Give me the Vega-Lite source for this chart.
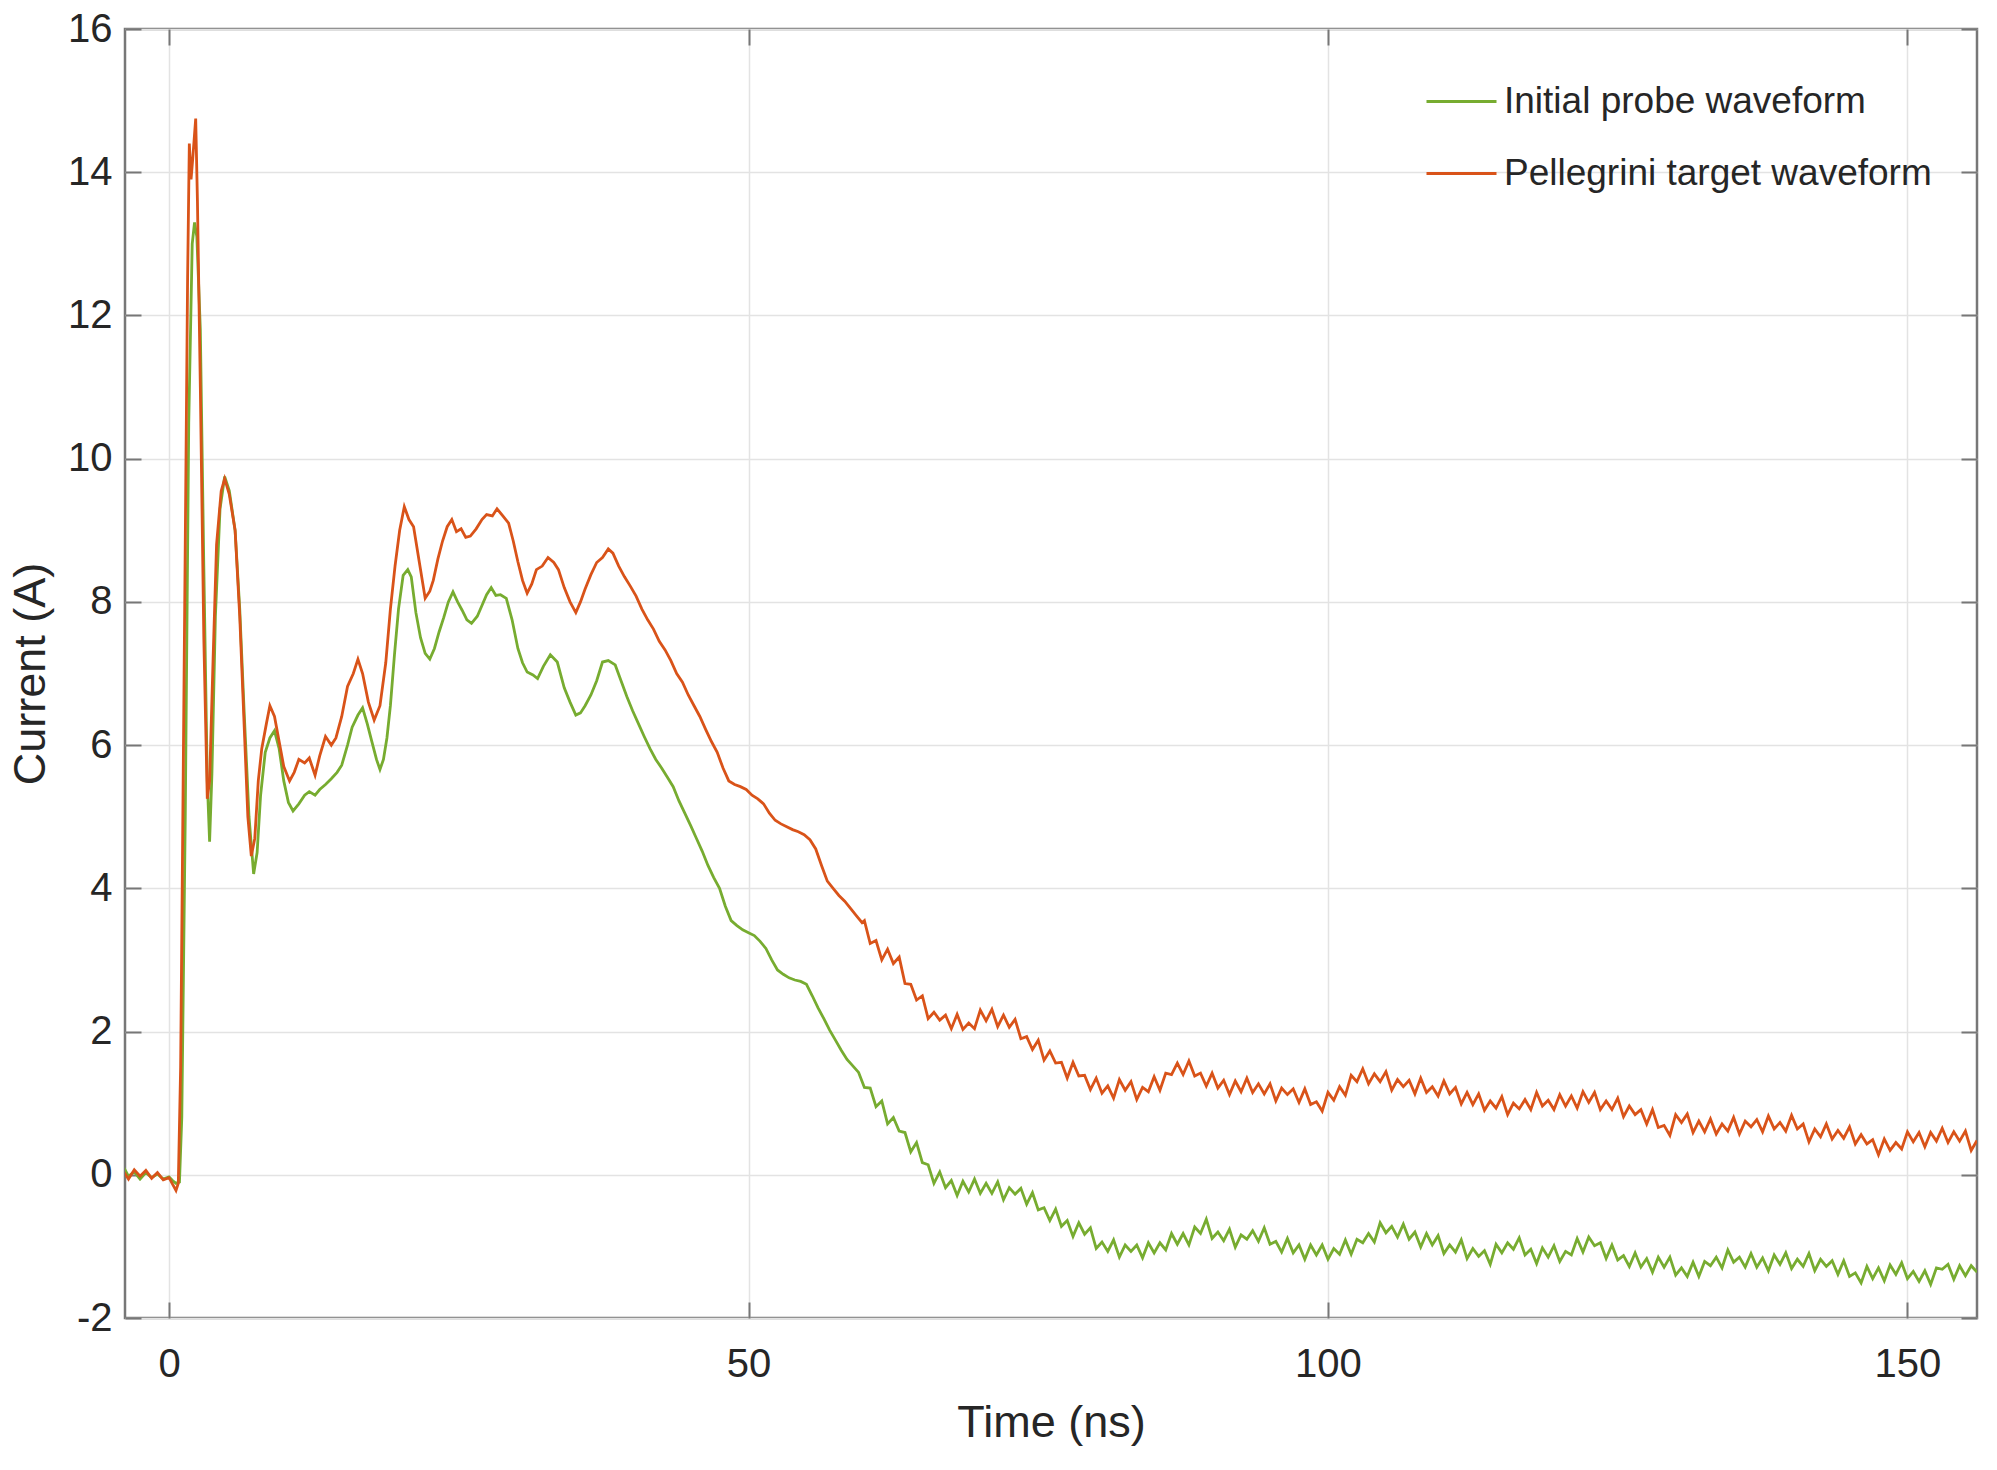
{
  "$schema": "https://vega.github.io/schema/vega-lite/v6.json",
  "autosize": {"type": "none"},
  "padding": {"left": 125, "top": 29, "right": 20, "bottom": 152},
  "width": 1852,
  "height": 1289,
  "background": "white",
  "config": {
    "font": "Liberation Sans",
    "view": {"stroke": "#777777", "strokeWidth": 2.5},
    "axis": {
      "labelColor": "#262626",
      "titleColor": "#262626",
      "labelFont": "Liberation Sans",
      "titleFont": "Liberation Sans",
      "labelFontSize": 40,
      "titleFontSize": 45,
      "titleFontWeight": "normal",
      "gridColor": "#e3e3e3",
      "gridWidth": 1.5,
      "domain": false,
      "tickColor": "#777777",
      "tickWidth": 2,
      "tickSize": -16,
      "labelExpr": "'' + datum.value"
    }
  },
  "data": {
    "values": [
      {"t": -3.9, "s": "g", "y": 0.1}, {"t": -3.5, "s": "g", "y": -0.02}, {"t": -3.0, "s": "g", "y": 0.04}, {"t": -2.5, "s": "g", "y": -0.06},
      {"t": -2.0, "s": "g", "y": 0.03}, {"t": -1.5, "s": "g", "y": -0.04}, {"t": -1.0, "s": "g", "y": 0.01}, {"t": -0.5, "s": "g", "y": -0.06},
      {"t": 0.0, "s": "g", "y": -0.03}, {"t": 0.3, "s": "g", "y": -0.08}, {"t": 0.6, "s": "g", "y": -0.12}, {"t": 0.9, "s": "g", "y": -0.1},
      {"t": 1.1, "s": "g", "y": 0.8}, {"t": 1.4, "s": "g", "y": 5.0}, {"t": 1.7, "s": "g", "y": 10.5}, {"t": 2.0, "s": "g", "y": 13.0},
      {"t": 2.2, "s": "g", "y": 13.3}, {"t": 2.4, "s": "g", "y": 13.1}, {"t": 2.7, "s": "g", "y": 11.8}, {"t": 3.0, "s": "g", "y": 8.5},
      {"t": 3.3, "s": "g", "y": 5.5}, {"t": 3.5, "s": "g", "y": 4.65}, {"t": 3.7, "s": "g", "y": 5.6}, {"t": 4.0, "s": "g", "y": 7.8},
      {"t": 4.4, "s": "g", "y": 9.3}, {"t": 4.8, "s": "g", "y": 9.75}, {"t": 5.2, "s": "g", "y": 9.55}, {"t": 5.7, "s": "g", "y": 9.0},
      {"t": 6.1, "s": "g", "y": 7.9}, {"t": 6.5, "s": "g", "y": 6.4}, {"t": 6.9, "s": "g", "y": 5.0}, {"t": 7.3, "s": "g", "y": 4.2},
      {"t": 7.6, "s": "g", "y": 4.5}, {"t": 7.9, "s": "g", "y": 5.3}, {"t": 8.3, "s": "g", "y": 5.9}, {"t": 8.7, "s": "g", "y": 6.1},
      {"t": 9.1, "s": "g", "y": 6.2}, {"t": 9.5, "s": "g", "y": 5.95}, {"t": 9.9, "s": "g", "y": 5.5}, {"t": 10.3, "s": "g", "y": 5.2},
      {"t": 10.7, "s": "g", "y": 5.08}, {"t": 11.2, "s": "g", "y": 5.18}, {"t": 11.7, "s": "g", "y": 5.3}, {"t": 12.1, "s": "g", "y": 5.35},
      {"t": 12.6, "s": "g", "y": 5.3}, {"t": 13.0, "s": "g", "y": 5.38}, {"t": 13.5, "s": "g", "y": 5.45}, {"t": 14.0, "s": "g", "y": 5.53},
      {"t": 14.5, "s": "g", "y": 5.62}, {"t": 14.9, "s": "g", "y": 5.72}, {"t": 15.4, "s": "g", "y": 6.0}, {"t": 15.8, "s": "g", "y": 6.25},
      {"t": 16.3, "s": "g", "y": 6.42}, {"t": 16.7, "s": "g", "y": 6.52}, {"t": 17.1, "s": "g", "y": 6.3}, {"t": 17.5, "s": "g", "y": 6.05},
      {"t": 17.9, "s": "g", "y": 5.8}, {"t": 18.2, "s": "g", "y": 5.66}, {"t": 18.5, "s": "g", "y": 5.8}, {"t": 18.8, "s": "g", "y": 6.1},
      {"t": 19.1, "s": "g", "y": 6.55}, {"t": 19.45, "s": "g", "y": 7.26}, {"t": 19.8, "s": "g", "y": 7.9}, {"t": 20.2, "s": "g", "y": 8.37},
      {"t": 20.6, "s": "g", "y": 8.45}, {"t": 20.9, "s": "g", "y": 8.35}, {"t": 21.3, "s": "g", "y": 7.85}, {"t": 21.7, "s": "g", "y": 7.5},
      {"t": 22.1, "s": "g", "y": 7.28}, {"t": 22.5, "s": "g", "y": 7.2}, {"t": 22.9, "s": "g", "y": 7.35}, {"t": 23.3, "s": "g", "y": 7.58},
      {"t": 23.7, "s": "g", "y": 7.78}, {"t": 24.1, "s": "g", "y": 8.0}, {"t": 24.5, "s": "g", "y": 8.14}, {"t": 24.9, "s": "g", "y": 8.0},
      {"t": 25.3, "s": "g", "y": 7.88}, {"t": 25.7, "s": "g", "y": 7.75}, {"t": 26.1, "s": "g", "y": 7.7}, {"t": 26.6, "s": "g", "y": 7.8},
      {"t": 27.0, "s": "g", "y": 7.95}, {"t": 27.4, "s": "g", "y": 8.1}, {"t": 27.8, "s": "g", "y": 8.2}, {"t": 28.2, "s": "g", "y": 8.09},
      {"t": 28.6, "s": "g", "y": 8.1}, {"t": 29.1, "s": "g", "y": 8.05}, {"t": 29.6, "s": "g", "y": 7.75}, {"t": 30.1, "s": "g", "y": 7.35},
      {"t": 30.5, "s": "g", "y": 7.15}, {"t": 30.9, "s": "g", "y": 7.02}, {"t": 31.4, "s": "g", "y": 6.98}, {"t": 31.8, "s": "g", "y": 6.93},
      {"t": 32.3, "s": "g", "y": 7.1}, {"t": 32.9, "s": "g", "y": 7.26}, {"t": 33.5, "s": "g", "y": 7.16}, {"t": 34.1, "s": "g", "y": 6.8},
      {"t": 34.6, "s": "g", "y": 6.6}, {"t": 35.1, "s": "g", "y": 6.42}, {"t": 35.5, "s": "g", "y": 6.45}, {"t": 35.9, "s": "g", "y": 6.55},
      {"t": 36.4, "s": "g", "y": 6.7}, {"t": 36.9, "s": "g", "y": 6.9}, {"t": 37.4, "s": "g", "y": 7.16}, {"t": 37.9, "s": "g", "y": 7.18},
      {"t": 38.5, "s": "g", "y": 7.12}, {"t": 39.0, "s": "g", "y": 6.9}, {"t": 39.5, "s": "g", "y": 6.68}, {"t": 40.0, "s": "g", "y": 6.48},
      {"t": 40.5, "s": "g", "y": 6.3}, {"t": 41.0, "s": "g", "y": 6.12}, {"t": 41.5, "s": "g", "y": 5.95}, {"t": 42.0, "s": "g", "y": 5.8},
      {"t": 42.5, "s": "g", "y": 5.68}, {"t": 43.0, "s": "g", "y": 5.55}, {"t": 43.5, "s": "g", "y": 5.42}, {"t": 44.0, "s": "g", "y": 5.22},
      {"t": 44.5, "s": "g", "y": 5.05}, {"t": 45.0, "s": "g", "y": 4.88}, {"t": 45.5, "s": "g", "y": 4.7}, {"t": 46.0, "s": "g", "y": 4.52},
      {"t": 46.5, "s": "g", "y": 4.32}, {"t": 47.0, "s": "g", "y": 4.15}, {"t": 47.5, "s": "g", "y": 4.0}, {"t": 48.0, "s": "g", "y": 3.75},
      {"t": 48.5, "s": "g", "y": 3.55}, {"t": 49.0, "s": "g", "y": 3.48}, {"t": 49.5, "s": "g", "y": 3.42}, {"t": 50.0, "s": "g", "y": 3.38},
      {"t": 50.5, "s": "g", "y": 3.34}, {"t": 51.0, "s": "g", "y": 3.26}, {"t": 51.5, "s": "g", "y": 3.16}, {"t": 52.0, "s": "g", "y": 3.0},
      {"t": 52.5, "s": "g", "y": 2.86}, {"t": 53.0, "s": "g", "y": 2.8}, {"t": 53.5, "s": "g", "y": 2.75}, {"t": 54.0, "s": "g", "y": 2.72},
      {"t": 54.5, "s": "g", "y": 2.7}, {"t": 55.0, "s": "g", "y": 2.66}, {"t": 55.5, "s": "g", "y": 2.5}, {"t": 56.0, "s": "g", "y": 2.33},
      {"t": 56.5, "s": "g", "y": 2.18}, {"t": 57.0, "s": "g", "y": 2.02}, {"t": 57.5, "s": "g", "y": 1.88}, {"t": 58.0, "s": "g", "y": 1.74},
      {"t": 58.5, "s": "g", "y": 1.61}, {"t": 59.0, "s": "g", "y": 1.52}, {"t": 59.5, "s": "g", "y": 1.43},
      {"t": 60.0, "s": "g", "y": 1.22}, {"t": 60.5, "s": "g", "y": 1.21}, {"t": 61.0, "s": "g", "y": 0.95}, {"t": 61.5, "s": "g", "y": 1.03},
      {"t": 62.0, "s": "g", "y": 0.71}, {"t": 62.5, "s": "g", "y": 0.8}, {"t": 63.0, "s": "g", "y": 0.61}, {"t": 63.5, "s": "g", "y": 0.59},
      {"t": 64.0, "s": "g", "y": 0.32}, {"t": 64.5, "s": "g", "y": 0.45}, {"t": 65.0, "s": "g", "y": 0.17}, {"t": 65.5, "s": "g", "y": 0.14},
      {"t": 66.0, "s": "g", "y": -0.12}, {"t": 66.5, "s": "g", "y": 0.04}, {"t": 67.0, "s": "g", "y": -0.18}, {"t": 67.5, "s": "g", "y": -0.08},
      {"t": 68.0, "s": "g", "y": -0.29}, {"t": 68.5, "s": "g", "y": -0.09}, {"t": 69.0, "s": "g", "y": -0.24}, {"t": 69.5, "s": "g", "y": -0.06},
      {"t": 70.0, "s": "g", "y": -0.26}, {"t": 70.5, "s": "g", "y": -0.12}, {"t": 71.0, "s": "g", "y": -0.26}, {"t": 71.5, "s": "g", "y": -0.1},
      {"t": 72.0, "s": "g", "y": -0.35}, {"t": 72.5, "s": "g", "y": -0.18}, {"t": 73.0, "s": "g", "y": -0.27}, {"t": 73.5, "s": "g", "y": -0.19},
      {"t": 74.0, "s": "g", "y": -0.41}, {"t": 74.5, "s": "g", "y": -0.25}, {"t": 75.0, "s": "g", "y": -0.49}, {"t": 75.5, "s": "g", "y": -0.46},
      {"t": 76.0, "s": "g", "y": -0.64}, {"t": 76.5, "s": "g", "y": -0.48}, {"t": 77.0, "s": "g", "y": -0.72}, {"t": 77.5, "s": "g", "y": -0.64},
      {"t": 78.0, "s": "g", "y": -0.86}, {"t": 78.5, "s": "g", "y": -0.67}, {"t": 79.0, "s": "g", "y": -0.83}, {"t": 79.5, "s": "g", "y": -0.74},
      {"t": 80.0, "s": "g", "y": -1.03}, {"t": 80.5, "s": "g", "y": -0.94}, {"t": 81.0, "s": "g", "y": -1.07}, {"t": 81.5, "s": "g", "y": -0.91},
      {"t": 82.0, "s": "g", "y": -1.15}, {"t": 82.5, "s": "g", "y": -0.98}, {"t": 83.0, "s": "g", "y": -1.07}, {"t": 83.5, "s": "g", "y": -0.98},
      {"t": 84.0, "s": "g", "y": -1.16}, {"t": 84.5, "s": "g", "y": -0.95}, {"t": 85.0, "s": "g", "y": -1.09}, {"t": 85.5, "s": "g", "y": -0.95},
      {"t": 86.0, "s": "g", "y": -1.05}, {"t": 86.5, "s": "g", "y": -0.82}, {"t": 87.0, "s": "g", "y": -0.97}, {"t": 87.5, "s": "g", "y": -0.82},
      {"t": 88.0, "s": "g", "y": -0.98}, {"t": 88.5, "s": "g", "y": -0.73}, {"t": 89.0, "s": "g", "y": -0.82}, {"t": 89.5, "s": "g", "y": -0.62},
      {"t": 90.0, "s": "g", "y": -0.89}, {"t": 90.5, "s": "g", "y": -0.8}, {"t": 91.0, "s": "g", "y": -0.92}, {"t": 91.5, "s": "g", "y": -0.76},
      {"t": 92.0, "s": "g", "y": -1.01}, {"t": 92.5, "s": "g", "y": -0.84}, {"t": 93.0, "s": "g", "y": -0.9}, {"t": 93.5, "s": "g", "y": -0.78},
      {"t": 94.0, "s": "g", "y": -0.93}, {"t": 94.5, "s": "g", "y": -0.74}, {"t": 95.0, "s": "g", "y": -0.97}, {"t": 95.5, "s": "g", "y": -0.93},
      {"t": 96.0, "s": "g", "y": -1.08}, {"t": 96.5, "s": "g", "y": -0.89}, {"t": 97.0, "s": "g", "y": -1.09}, {"t": 97.5, "s": "g", "y": -0.98},
      {"t": 98.0, "s": "g", "y": -1.18}, {"t": 98.5, "s": "g", "y": -0.98}, {"t": 99.0, "s": "g", "y": -1.12}, {"t": 99.5, "s": "g", "y": -0.98},
      {"t": 100.0, "s": "g", "y": -1.18}, {"t": 100.5, "s": "g", "y": -1.03}, {"t": 101.0, "s": "g", "y": -1.11}, {"t": 101.5, "s": "g", "y": -0.91},
      {"t": 102.0, "s": "g", "y": -1.11}, {"t": 102.5, "s": "g", "y": -0.9}, {"t": 103.0, "s": "g", "y": -0.95}, {"t": 103.5, "s": "g", "y": -0.82},
      {"t": 104.0, "s": "g", "y": -0.94}, {"t": 104.5, "s": "g", "y": -0.67}, {"t": 105.0, "s": "g", "y": -0.81}, {"t": 105.5, "s": "g", "y": -0.72},
      {"t": 106.0, "s": "g", "y": -0.87}, {"t": 106.5, "s": "g", "y": -0.69}, {"t": 107.0, "s": "g", "y": -0.9}, {"t": 107.5, "s": "g", "y": -0.8},
      {"t": 108.0, "s": "g", "y": -1.01}, {"t": 108.5, "s": "g", "y": -0.82}, {"t": 109.0, "s": "g", "y": -0.98}, {"t": 109.5, "s": "g", "y": -0.85},
      {"t": 110.0, "s": "g", "y": -1.1}, {"t": 110.5, "s": "g", "y": -0.98}, {"t": 111.0, "s": "g", "y": -1.08}, {"t": 111.5, "s": "g", "y": -0.91},
      {"t": 112.0, "s": "g", "y": -1.17}, {"t": 112.5, "s": "g", "y": -1.03}, {"t": 113.0, "s": "g", "y": -1.14}, {"t": 113.5, "s": "g", "y": -1.06},
      {"t": 114.0, "s": "g", "y": -1.25}, {"t": 114.5, "s": "g", "y": -0.97}, {"t": 115.0, "s": "g", "y": -1.09}, {"t": 115.5, "s": "g", "y": -0.95},
      {"t": 116.0, "s": "g", "y": -1.04}, {"t": 116.5, "s": "g", "y": -0.88}, {"t": 117.0, "s": "g", "y": -1.12}, {"t": 117.5, "s": "g", "y": -1.04},
      {"t": 118.0, "s": "g", "y": -1.24}, {"t": 118.5, "s": "g", "y": -1.02}, {"t": 119.0, "s": "g", "y": -1.15}, {"t": 119.5, "s": "g", "y": -0.99},
      {"t": 120.0, "s": "g", "y": -1.21}, {"t": 120.5, "s": "g", "y": -1.07}, {"t": 121.0, "s": "g", "y": -1.12}, {"t": 121.5, "s": "g", "y": -0.89},
      {"t": 122.0, "s": "g", "y": -1.08}, {"t": 122.5, "s": "g", "y": -0.87}, {"t": 123.0, "s": "g", "y": -0.99}, {"t": 123.5, "s": "g", "y": -0.95},
      {"t": 124.0, "s": "g", "y": -1.17}, {"t": 124.5, "s": "g", "y": -0.98}, {"t": 125.0, "s": "g", "y": -1.19}, {"t": 125.5, "s": "g", "y": -1.13},
      {"t": 126.0, "s": "g", "y": -1.28}, {"t": 126.5, "s": "g", "y": -1.09}, {"t": 127.0, "s": "g", "y": -1.29}, {"t": 127.5, "s": "g", "y": -1.17},
      {"t": 128.0, "s": "g", "y": -1.36}, {"t": 128.5, "s": "g", "y": -1.15}, {"t": 129.0, "s": "g", "y": -1.29}, {"t": 129.5, "s": "g", "y": -1.15},
      {"t": 130.0, "s": "g", "y": -1.4}, {"t": 130.5, "s": "g", "y": -1.3}, {"t": 131.0, "s": "g", "y": -1.42}, {"t": 131.5, "s": "g", "y": -1.22},
      {"t": 132.0, "s": "g", "y": -1.42}, {"t": 132.5, "s": "g", "y": -1.21}, {"t": 133.0, "s": "g", "y": -1.27}, {"t": 133.5, "s": "g", "y": -1.15},
      {"t": 134.0, "s": "g", "y": -1.3}, {"t": 134.5, "s": "g", "y": -1.05}, {"t": 135.0, "s": "g", "y": -1.22}, {"t": 135.5, "s": "g", "y": -1.15},
      {"t": 136.0, "s": "g", "y": -1.29}, {"t": 136.5, "s": "g", "y": -1.1}, {"t": 137.0, "s": "g", "y": -1.29}, {"t": 137.5, "s": "g", "y": -1.16},
      {"t": 138.0, "s": "g", "y": -1.34}, {"t": 138.5, "s": "g", "y": -1.12}, {"t": 139.0, "s": "g", "y": -1.25}, {"t": 139.5, "s": "g", "y": -1.09},
      {"t": 140.0, "s": "g", "y": -1.31}, {"t": 140.5, "s": "g", "y": -1.18}, {"t": 141.0, "s": "g", "y": -1.28}, {"t": 141.5, "s": "g", "y": -1.1},
      {"t": 142.0, "s": "g", "y": -1.34}, {"t": 142.5, "s": "g", "y": -1.18}, {"t": 143.0, "s": "g", "y": -1.28}, {"t": 143.5, "s": "g", "y": -1.2},
      {"t": 144.0, "s": "g", "y": -1.39}, {"t": 144.5, "s": "g", "y": -1.2}, {"t": 145.0, "s": "g", "y": -1.42}, {"t": 145.5, "s": "g", "y": -1.37},
      {"t": 146.0, "s": "g", "y": -1.51}, {"t": 146.5, "s": "g", "y": -1.28}, {"t": 147.0, "s": "g", "y": -1.45}, {"t": 147.5, "s": "g", "y": -1.3},
      {"t": 148.0, "s": "g", "y": -1.48}, {"t": 148.5, "s": "g", "y": -1.26}, {"t": 149.0, "s": "g", "y": -1.39}, {"t": 149.5, "s": "g", "y": -1.23},
      {"t": 150.0, "s": "g", "y": -1.45}, {"t": 150.5, "s": "g", "y": -1.35}, {"t": 151.0, "s": "g", "y": -1.49}, {"t": 151.5, "s": "g", "y": -1.34},
      {"t": 152.0, "s": "g", "y": -1.53}, {"t": 152.5, "s": "g", "y": -1.3}, {"t": 153.0, "s": "g", "y": -1.32}, {"t": 153.5, "s": "g", "y": -1.25},
      {"t": 154.0, "s": "g", "y": -1.46}, {"t": 154.5, "s": "g", "y": -1.27}, {"t": 155.0, "s": "g", "y": -1.41}, {"t": 155.5, "s": "g", "y": -1.27},
      {"t": 156.0, "s": "g", "y": -1.36},

      {"t": -3.9, "s": "p", "y": 0.04}, {"t": -3.5, "s": "p", "y": -0.06}, {"t": -3.0, "s": "p", "y": 0.07}, {"t": -2.5, "s": "p", "y": -0.02},
      {"t": -2.0, "s": "p", "y": 0.06}, {"t": -1.5, "s": "p", "y": -0.05}, {"t": -1.0, "s": "p", "y": 0.03}, {"t": -0.5, "s": "p", "y": -0.07},
      {"t": 0.0, "s": "p", "y": -0.04}, {"t": 0.3, "s": "p", "y": -0.13}, {"t": 0.6, "s": "p", "y": -0.22}, {"t": 0.8, "s": "p", "y": -0.12},
      {"t": 1.0, "s": "p", "y": 1.5}, {"t": 1.3, "s": "p", "y": 7.0}, {"t": 1.6, "s": "p", "y": 12.5}, {"t": 1.75, "s": "p", "y": 14.4},
      {"t": 1.9, "s": "p", "y": 13.9}, {"t": 2.05, "s": "p", "y": 14.2}, {"t": 2.3, "s": "p", "y": 14.75}, {"t": 2.45, "s": "p", "y": 13.6},
      {"t": 2.7, "s": "p", "y": 11.0}, {"t": 3.0, "s": "p", "y": 7.5}, {"t": 3.3, "s": "p", "y": 5.25}, {"t": 3.5, "s": "p", "y": 5.5},
      {"t": 3.8, "s": "p", "y": 7.2}, {"t": 4.1, "s": "p", "y": 8.8}, {"t": 4.5, "s": "p", "y": 9.55}, {"t": 4.8, "s": "p", "y": 9.72},
      {"t": 5.2, "s": "p", "y": 9.5}, {"t": 5.7, "s": "p", "y": 9.0}, {"t": 6.1, "s": "p", "y": 7.8}, {"t": 6.5, "s": "p", "y": 6.2},
      {"t": 6.8, "s": "p", "y": 5.0}, {"t": 7.1, "s": "p", "y": 4.45}, {"t": 7.4, "s": "p", "y": 4.7}, {"t": 7.7, "s": "p", "y": 5.5},
      {"t": 8.0, "s": "p", "y": 5.95}, {"t": 8.4, "s": "p", "y": 6.3}, {"t": 8.7, "s": "p", "y": 6.55}, {"t": 9.1, "s": "p", "y": 6.4},
      {"t": 9.5, "s": "p", "y": 6.05}, {"t": 9.9, "s": "p", "y": 5.7}, {"t": 10.4, "s": "p", "y": 5.5}, {"t": 10.8, "s": "p", "y": 5.62},
      {"t": 11.2, "s": "p", "y": 5.8}, {"t": 11.7, "s": "p", "y": 5.75}, {"t": 12.1, "s": "p", "y": 5.82}, {"t": 12.6, "s": "p", "y": 5.58},
      {"t": 13.0, "s": "p", "y": 5.85}, {"t": 13.5, "s": "p", "y": 6.12}, {"t": 14.0, "s": "p", "y": 6.0}, {"t": 14.4, "s": "p", "y": 6.1},
      {"t": 14.9, "s": "p", "y": 6.4}, {"t": 15.4, "s": "p", "y": 6.82}, {"t": 15.9, "s": "p", "y": 7.0}, {"t": 16.3, "s": "p", "y": 7.2},
      {"t": 16.7, "s": "p", "y": 7.0}, {"t": 17.2, "s": "p", "y": 6.6}, {"t": 17.7, "s": "p", "y": 6.35}, {"t": 18.2, "s": "p", "y": 6.55},
      {"t": 18.7, "s": "p", "y": 7.15}, {"t": 19.1, "s": "p", "y": 7.9}, {"t": 19.5, "s": "p", "y": 8.5}, {"t": 19.9, "s": "p", "y": 9.0},
      {"t": 20.3, "s": "p", "y": 9.33}, {"t": 20.7, "s": "p", "y": 9.15}, {"t": 21.1, "s": "p", "y": 9.05}, {"t": 21.6, "s": "p", "y": 8.55},
      {"t": 22.1, "s": "p", "y": 8.05}, {"t": 22.5, "s": "p", "y": 8.15}, {"t": 22.8, "s": "p", "y": 8.3}, {"t": 23.2, "s": "p", "y": 8.6},
      {"t": 23.6, "s": "p", "y": 8.85}, {"t": 24.0, "s": "p", "y": 9.05}, {"t": 24.4, "s": "p", "y": 9.15}, {"t": 24.8, "s": "p", "y": 8.98},
      {"t": 25.2, "s": "p", "y": 9.02}, {"t": 25.6, "s": "p", "y": 8.9}, {"t": 26.0, "s": "p", "y": 8.92}, {"t": 26.5, "s": "p", "y": 9.02},
      {"t": 27.0, "s": "p", "y": 9.15}, {"t": 27.4, "s": "p", "y": 9.22}, {"t": 27.9, "s": "p", "y": 9.2}, {"t": 28.3, "s": "p", "y": 9.3},
      {"t": 28.8, "s": "p", "y": 9.2}, {"t": 29.3, "s": "p", "y": 9.1}, {"t": 29.7, "s": "p", "y": 8.85}, {"t": 30.1, "s": "p", "y": 8.56},
      {"t": 30.5, "s": "p", "y": 8.3}, {"t": 30.9, "s": "p", "y": 8.12}, {"t": 31.3, "s": "p", "y": 8.25}, {"t": 31.7, "s": "p", "y": 8.45},
      {"t": 32.2, "s": "p", "y": 8.5}, {"t": 32.7, "s": "p", "y": 8.62}, {"t": 33.2, "s": "p", "y": 8.55}, {"t": 33.6, "s": "p", "y": 8.45},
      {"t": 34.1, "s": "p", "y": 8.2}, {"t": 34.6, "s": "p", "y": 8.0}, {"t": 35.1, "s": "p", "y": 7.85}, {"t": 35.5, "s": "p", "y": 8.0},
      {"t": 35.9, "s": "p", "y": 8.18}, {"t": 36.4, "s": "p", "y": 8.38}, {"t": 36.9, "s": "p", "y": 8.55}, {"t": 37.4, "s": "p", "y": 8.62},
      {"t": 37.9, "s": "p", "y": 8.74}, {"t": 38.3, "s": "p", "y": 8.68}, {"t": 38.8, "s": "p", "y": 8.5}, {"t": 39.3, "s": "p", "y": 8.35},
      {"t": 39.8, "s": "p", "y": 8.22}, {"t": 40.3, "s": "p", "y": 8.08}, {"t": 40.8, "s": "p", "y": 7.9}, {"t": 41.3, "s": "p", "y": 7.75},
      {"t": 41.8, "s": "p", "y": 7.62}, {"t": 42.3, "s": "p", "y": 7.45}, {"t": 42.8, "s": "p", "y": 7.33}, {"t": 43.3, "s": "p", "y": 7.18},
      {"t": 43.8, "s": "p", "y": 7.0}, {"t": 44.3, "s": "p", "y": 6.88}, {"t": 44.8, "s": "p", "y": 6.7}, {"t": 45.3, "s": "p", "y": 6.55},
      {"t": 45.8, "s": "p", "y": 6.4}, {"t": 46.3, "s": "p", "y": 6.22}, {"t": 46.8, "s": "p", "y": 6.05}, {"t": 47.3, "s": "p", "y": 5.9},
      {"t": 47.8, "s": "p", "y": 5.68}, {"t": 48.3, "s": "p", "y": 5.5}, {"t": 48.8, "s": "p", "y": 5.45}, {"t": 49.3, "s": "p", "y": 5.42},
      {"t": 49.8, "s": "p", "y": 5.38}, {"t": 50.3, "s": "p", "y": 5.3}, {"t": 50.8, "s": "p", "y": 5.25}, {"t": 51.3, "s": "p", "y": 5.18},
      {"t": 51.8, "s": "p", "y": 5.05}, {"t": 52.3, "s": "p", "y": 4.95}, {"t": 52.8, "s": "p", "y": 4.9}, {"t": 53.3, "s": "p", "y": 4.86},
      {"t": 53.8, "s": "p", "y": 4.82}, {"t": 54.3, "s": "p", "y": 4.79}, {"t": 54.8, "s": "p", "y": 4.75}, {"t": 55.3, "s": "p", "y": 4.68},
      {"t": 55.8, "s": "p", "y": 4.55}, {"t": 56.3, "s": "p", "y": 4.32}, {"t": 56.8, "s": "p", "y": 4.1}, {"t": 57.3, "s": "p", "y": 4.0},
      {"t": 57.8, "s": "p", "y": 3.9}, {"t": 58.3, "s": "p", "y": 3.82}, {"t": 58.8, "s": "p", "y": 3.72}, {"t": 59.3, "s": "p", "y": 3.62},
      {"t": 59.8, "s": "p", "y": 3.52},
      {"t": 60.0, "s": "p", "y": 3.55}, {"t": 60.5, "s": "p", "y": 3.23}, {"t": 61.0, "s": "p", "y": 3.27}, {"t": 61.5, "s": "p", "y": 3.0},
      {"t": 62.0, "s": "p", "y": 3.15}, {"t": 62.5, "s": "p", "y": 2.95}, {"t": 63.0, "s": "p", "y": 3.04}, {"t": 63.5, "s": "p", "y": 2.67},
      {"t": 64.0, "s": "p", "y": 2.66}, {"t": 64.5, "s": "p", "y": 2.44}, {"t": 65.0, "s": "p", "y": 2.5}, {"t": 65.5, "s": "p", "y": 2.18},
      {"t": 66.0, "s": "p", "y": 2.27}, {"t": 66.5, "s": "p", "y": 2.16}, {"t": 67.0, "s": "p", "y": 2.23}, {"t": 67.5, "s": "p", "y": 2.04},
      {"t": 68.0, "s": "p", "y": 2.24}, {"t": 68.5, "s": "p", "y": 2.03}, {"t": 69.0, "s": "p", "y": 2.12}, {"t": 69.5, "s": "p", "y": 2.04},
      {"t": 70.0, "s": "p", "y": 2.3}, {"t": 70.5, "s": "p", "y": 2.15}, {"t": 71.0, "s": "p", "y": 2.31}, {"t": 71.5, "s": "p", "y": 2.07},
      {"t": 72.0, "s": "p", "y": 2.23}, {"t": 72.5, "s": "p", "y": 2.06}, {"t": 73.0, "s": "p", "y": 2.17}, {"t": 73.5, "s": "p", "y": 1.9},
      {"t": 74.0, "s": "p", "y": 1.93}, {"t": 74.5, "s": "p", "y": 1.75}, {"t": 75.0, "s": "p", "y": 1.88}, {"t": 75.5, "s": "p", "y": 1.6},
      {"t": 76.0, "s": "p", "y": 1.73}, {"t": 76.5, "s": "p", "y": 1.56}, {"t": 77.0, "s": "p", "y": 1.57}, {"t": 77.5, "s": "p", "y": 1.35},
      {"t": 78.0, "s": "p", "y": 1.57}, {"t": 78.5, "s": "p", "y": 1.38}, {"t": 79.0, "s": "p", "y": 1.39}, {"t": 79.5, "s": "p", "y": 1.19},
      {"t": 80.0, "s": "p", "y": 1.35}, {"t": 80.5, "s": "p", "y": 1.14}, {"t": 81.0, "s": "p", "y": 1.24}, {"t": 81.5, "s": "p", "y": 1.07},
      {"t": 82.0, "s": "p", "y": 1.33}, {"t": 82.5, "s": "p", "y": 1.18}, {"t": 83.0, "s": "p", "y": 1.3}, {"t": 83.5, "s": "p", "y": 1.05},
      {"t": 84.0, "s": "p", "y": 1.22}, {"t": 84.5, "s": "p", "y": 1.16}, {"t": 85.0, "s": "p", "y": 1.37}, {"t": 85.5, "s": "p", "y": 1.18},
      {"t": 86.0, "s": "p", "y": 1.42}, {"t": 86.5, "s": "p", "y": 1.4}, {"t": 87.0, "s": "p", "y": 1.56}, {"t": 87.5, "s": "p", "y": 1.4},
      {"t": 88.0, "s": "p", "y": 1.59}, {"t": 88.5, "s": "p", "y": 1.38}, {"t": 89.0, "s": "p", "y": 1.42}, {"t": 89.5, "s": "p", "y": 1.24},
      {"t": 90.0, "s": "p", "y": 1.42}, {"t": 90.5, "s": "p", "y": 1.21}, {"t": 91.0, "s": "p", "y": 1.32}, {"t": 91.5, "s": "p", "y": 1.12},
      {"t": 92.0, "s": "p", "y": 1.31}, {"t": 92.5, "s": "p", "y": 1.16}, {"t": 93.0, "s": "p", "y": 1.35}, {"t": 93.5, "s": "p", "y": 1.15},
      {"t": 94.0, "s": "p", "y": 1.27}, {"t": 94.5, "s": "p", "y": 1.13}, {"t": 95.0, "s": "p", "y": 1.27}, {"t": 95.5, "s": "p", "y": 1.03},
      {"t": 96.0, "s": "p", "y": 1.21}, {"t": 96.5, "s": "p", "y": 1.12}, {"t": 97.0, "s": "p", "y": 1.2}, {"t": 97.5, "s": "p", "y": 1.01},
      {"t": 98.0, "s": "p", "y": 1.2}, {"t": 98.5, "s": "p", "y": 0.98}, {"t": 99.0, "s": "p", "y": 1.02}, {"t": 99.5, "s": "p", "y": 0.89},
      {"t": 100.0, "s": "p", "y": 1.15}, {"t": 100.5, "s": "p", "y": 1.04}, {"t": 101.0, "s": "p", "y": 1.23}, {"t": 101.5, "s": "p", "y": 1.11},
      {"t": 102.0, "s": "p", "y": 1.39}, {"t": 102.5, "s": "p", "y": 1.3}, {"t": 103.0, "s": "p", "y": 1.48}, {"t": 103.5, "s": "p", "y": 1.27},
      {"t": 104.0, "s": "p", "y": 1.41}, {"t": 104.5, "s": "p", "y": 1.3}, {"t": 105.0, "s": "p", "y": 1.44}, {"t": 105.5, "s": "p", "y": 1.18},
      {"t": 106.0, "s": "p", "y": 1.33}, {"t": 106.5, "s": "p", "y": 1.23}, {"t": 107.0, "s": "p", "y": 1.32}, {"t": 107.5, "s": "p", "y": 1.13},
      {"t": 108.0, "s": "p", "y": 1.35}, {"t": 108.5, "s": "p", "y": 1.15}, {"t": 109.0, "s": "p", "y": 1.23}, {"t": 109.5, "s": "p", "y": 1.1},
      {"t": 110.0, "s": "p", "y": 1.31}, {"t": 110.5, "s": "p", "y": 1.13}, {"t": 111.0, "s": "p", "y": 1.22}, {"t": 111.5, "s": "p", "y": 0.99},
      {"t": 112.0, "s": "p", "y": 1.15}, {"t": 112.5, "s": "p", "y": 0.98}, {"t": 113.0, "s": "p", "y": 1.13}, {"t": 113.5, "s": "p", "y": 0.9},
      {"t": 114.0, "s": "p", "y": 1.03}, {"t": 114.5, "s": "p", "y": 0.93}, {"t": 115.0, "s": "p", "y": 1.09}, {"t": 115.5, "s": "p", "y": 0.84},
      {"t": 116.0, "s": "p", "y": 1.0}, {"t": 116.5, "s": "p", "y": 0.92}, {"t": 117.0, "s": "p", "y": 1.05}, {"t": 117.5, "s": "p", "y": 0.91},
      {"t": 118.0, "s": "p", "y": 1.15}, {"t": 118.5, "s": "p", "y": 0.96}, {"t": 119.0, "s": "p", "y": 1.04}, {"t": 119.5, "s": "p", "y": 0.91},
      {"t": 120.0, "s": "p", "y": 1.12}, {"t": 120.5, "s": "p", "y": 0.96}, {"t": 121.0, "s": "p", "y": 1.1}, {"t": 121.5, "s": "p", "y": 0.93},
      {"t": 122.0, "s": "p", "y": 1.16}, {"t": 122.5, "s": "p", "y": 1.01}, {"t": 123.0, "s": "p", "y": 1.15}, {"t": 123.5, "s": "p", "y": 0.91},
      {"t": 124.0, "s": "p", "y": 1.03}, {"t": 124.5, "s": "p", "y": 0.91}, {"t": 125.0, "s": "p", "y": 1.07}, {"t": 125.5, "s": "p", "y": 0.81},
      {"t": 126.0, "s": "p", "y": 0.96}, {"t": 126.5, "s": "p", "y": 0.84}, {"t": 127.0, "s": "p", "y": 0.91}, {"t": 127.5, "s": "p", "y": 0.71},
      {"t": 128.0, "s": "p", "y": 0.91}, {"t": 128.5, "s": "p", "y": 0.66}, {"t": 129.0, "s": "p", "y": 0.69}, {"t": 129.5, "s": "p", "y": 0.55},
      {"t": 130.0, "s": "p", "y": 0.84}, {"t": 130.5, "s": "p", "y": 0.73}, {"t": 131.0, "s": "p", "y": 0.85}, {"t": 131.5, "s": "p", "y": 0.59},
      {"t": 132.0, "s": "p", "y": 0.75}, {"t": 132.5, "s": "p", "y": 0.6}, {"t": 133.0, "s": "p", "y": 0.78}, {"t": 133.5, "s": "p", "y": 0.57},
      {"t": 134.0, "s": "p", "y": 0.71}, {"t": 134.5, "s": "p", "y": 0.61}, {"t": 135.0, "s": "p", "y": 0.8}, {"t": 135.5, "s": "p", "y": 0.57},
      {"t": 136.0, "s": "p", "y": 0.75}, {"t": 136.5, "s": "p", "y": 0.67}, {"t": 137.0, "s": "p", "y": 0.77}, {"t": 137.5, "s": "p", "y": 0.6},
      {"t": 138.0, "s": "p", "y": 0.82}, {"t": 138.5, "s": "p", "y": 0.64}, {"t": 139.0, "s": "p", "y": 0.73}, {"t": 139.5, "s": "p", "y": 0.61},
      {"t": 140.0, "s": "p", "y": 0.83}, {"t": 140.5, "s": "p", "y": 0.64}, {"t": 141.0, "s": "p", "y": 0.71}, {"t": 141.5, "s": "p", "y": 0.46},
      {"t": 142.0, "s": "p", "y": 0.64}, {"t": 142.5, "s": "p", "y": 0.53}, {"t": 143.0, "s": "p", "y": 0.71}, {"t": 143.5, "s": "p", "y": 0.5},
      {"t": 144.0, "s": "p", "y": 0.62}, {"t": 144.5, "s": "p", "y": 0.51}, {"t": 145.0, "s": "p", "y": 0.67}, {"t": 145.5, "s": "p", "y": 0.43},
      {"t": 146.0, "s": "p", "y": 0.56}, {"t": 146.5, "s": "p", "y": 0.43}, {"t": 147.0, "s": "p", "y": 0.49}, {"t": 147.5, "s": "p", "y": 0.28},
      {"t": 148.0, "s": "p", "y": 0.5}, {"t": 148.5, "s": "p", "y": 0.34}, {"t": 149.0, "s": "p", "y": 0.45}, {"t": 149.5, "s": "p", "y": 0.36},
      {"t": 150.0, "s": "p", "y": 0.6}, {"t": 150.5, "s": "p", "y": 0.46}, {"t": 151.0, "s": "p", "y": 0.59}, {"t": 151.5, "s": "p", "y": 0.39},
      {"t": 152.0, "s": "p", "y": 0.59}, {"t": 152.5, "s": "p", "y": 0.47}, {"t": 153.0, "s": "p", "y": 0.65}, {"t": 153.5, "s": "p", "y": 0.45},
      {"t": 154.0, "s": "p", "y": 0.6}, {"t": 154.5, "s": "p", "y": 0.47}, {"t": 155.0, "s": "p", "y": 0.61}, {"t": 155.5, "s": "p", "y": 0.34},
      {"t": 156.0, "s": "p", "y": 0.48}
    ]
  },
  "layer": [
    {
      "mark": {"type": "line", "strokeWidth": 2.8, "clip": true},
      "encoding": {
        "x": {
          "field": "t",
          "type": "quantitative",
          "scale": {"domain": [-3.8, 156], "nice": false, "zero": false},
          "axis": {"values": [0, 50, 100, 150], "title": "Time (ns)", "labelPadding": 42, "titlePadding": 16}
        },
        "y": {
          "field": "y",
          "type": "quantitative",
          "scale": {"domain": [-2, 16], "nice": false, "zero": false},
          "axis": {"values": [-2, 0, 2, 4, 6, 8, 10, 12, 14, 16], "title": "Current (A)", "labelPadding": 29, "titlePadding": 14}
        },
        "color": {
          "field": "s",
          "type": "nominal",
          "scale": {"domain": ["g", "p"], "range": ["#77AC30", "#D95319"]},
          "legend": {
            "title": null,
            "orient": "none",
            "legendX": 1300,
            "legendY": 36,
            "labelExpr": "datum.value == 'g' ? 'Initial probe waveform' : 'Pellegrini target waveform'",
            "labelLimit": 0,
            "labelFont": "Liberation Sans",
            "labelFontSize": 37,
            "labelColor": "#262626",
            "labelOffset": 6,
            "symbolType": "stroke",
            "symbolSize": 4900,
            "symbolStrokeWidth": 3,
            "rowPadding": 17
          }
        }
      }
    },
    {
      "mark": {"type": "line", "strokeOpacity": 0, "clip": true},
      "encoding": {
        "x": {
          "field": "t",
          "type": "quantitative",
          "scale": {"domain": [-3.8, 156], "nice": false, "zero": false},
          "axis": {"orient": "top", "values": [0, 50, 100, 150], "title": null, "labels": false, "grid": false}
        },
        "y": {
          "field": "y",
          "type": "quantitative",
          "scale": {"domain": [-2, 16], "nice": false, "zero": false},
          "axis": {"orient": "right", "values": [-2, 0, 2, 4, 6, 8, 10, 12, 14, 16], "title": null, "labels": false, "grid": false}
        },
        "detail": {"field": "s", "type": "nominal"}
      }
    }
  ],
  "resolve": {"axis": {"x": "independent", "y": "independent"}}
}
